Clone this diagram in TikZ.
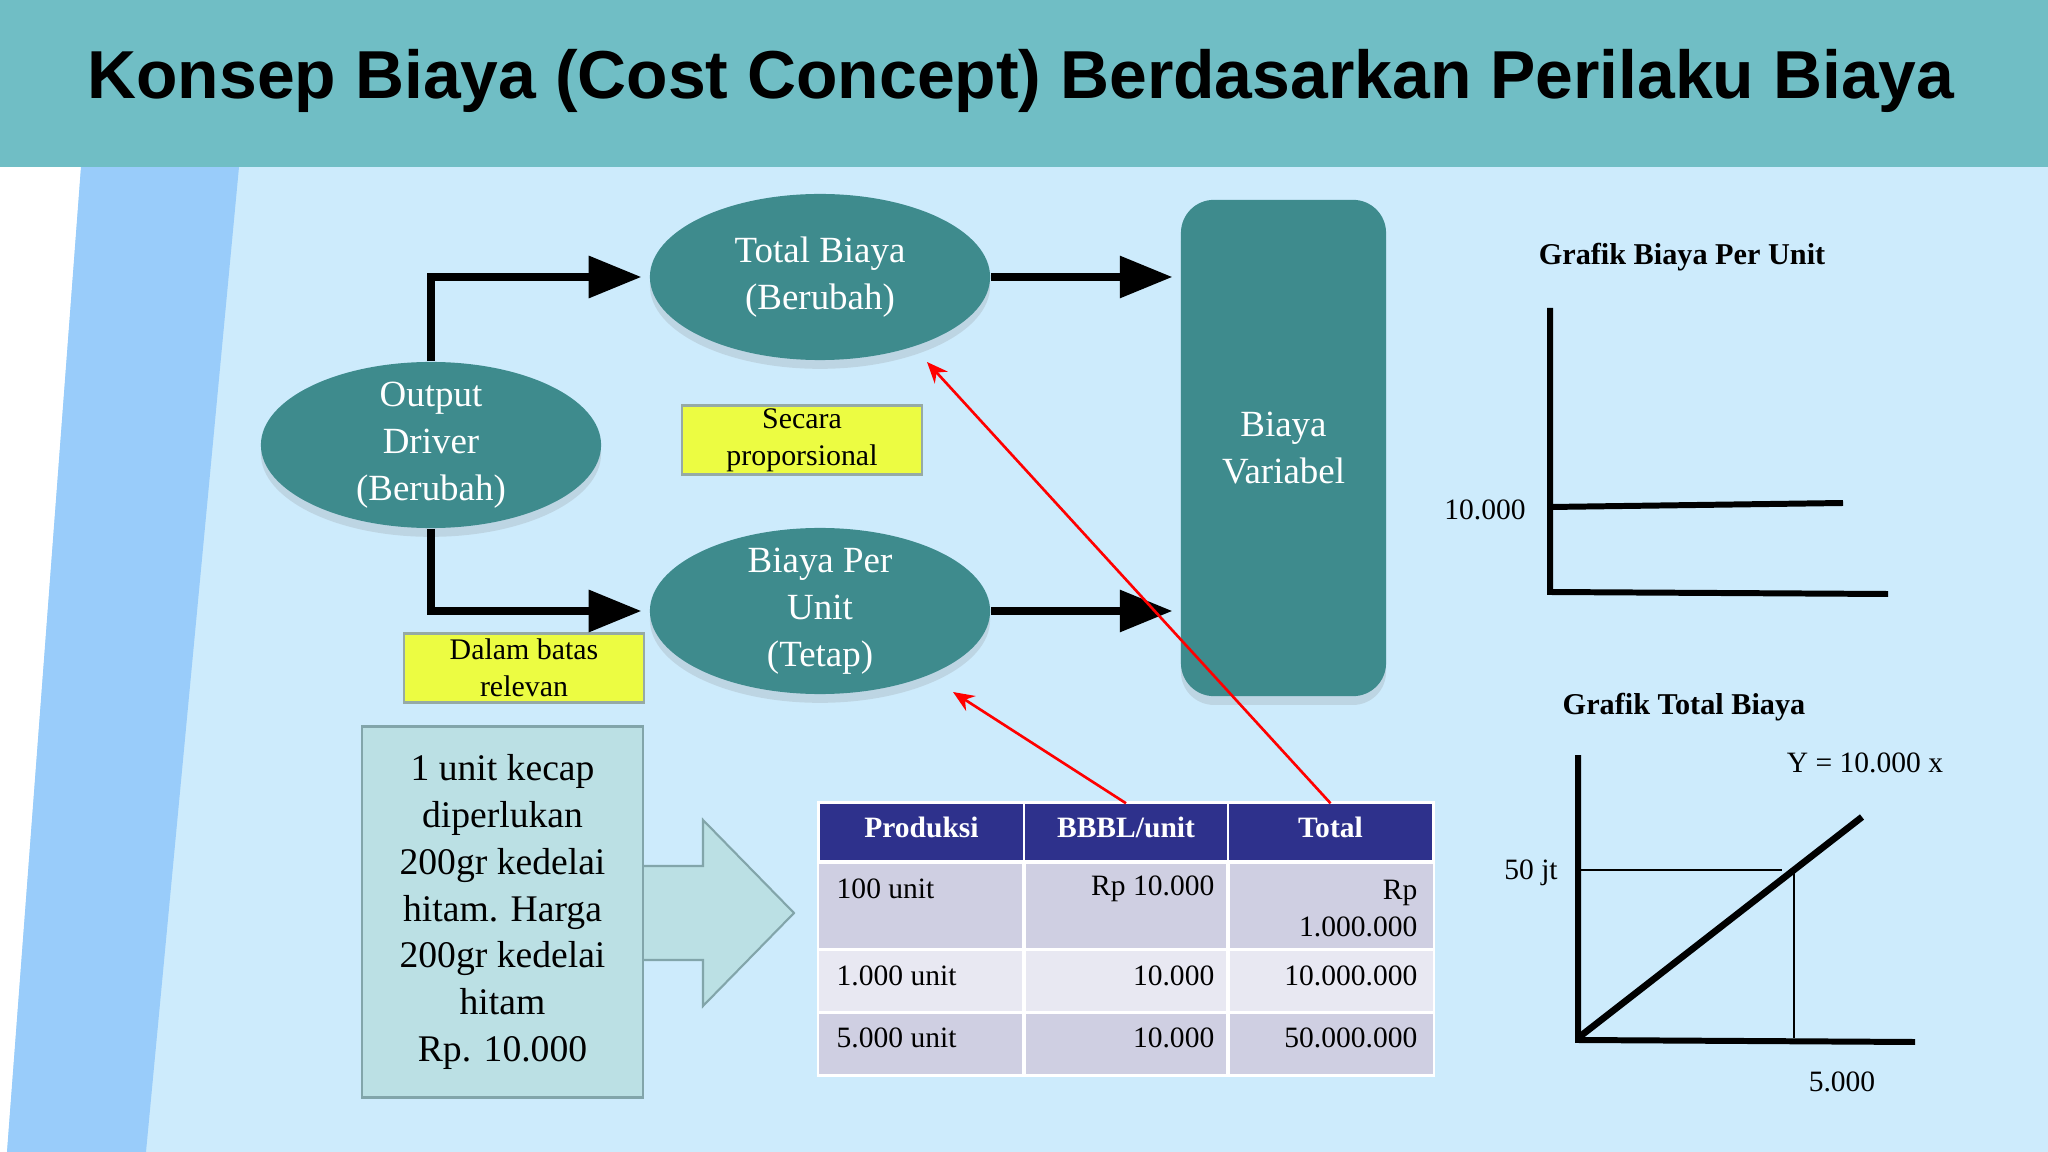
\documentclass[tikz,border=0pt]{standalone}
\usepackage{fontspec}
\setmainfont{Liberation Serif}
\newfontfamily\headfont{Liberation Sans}
\usetikzlibrary{arrows.meta,shapes.geometric,shadows}
\definecolor{BandTeal}{RGB}{112,190,197}
\definecolor{SkyBack}{RGB}{205,235,252}
\definecolor{StripeBlue}{RGB}{153,204,250}
\definecolor{NodeTeal}{RGB}{62,139,141}
\definecolor{NoteYellow}{RGB}{236,252,66}
\definecolor{NoteEdge}{RGB}{150,170,165}
\definecolor{BoxTeal}{RGB}{187,224,228}
\definecolor{BoxEdge}{RGB}{130,165,170}
\definecolor{HeadBlue}{RGB}{46,49,140}
\definecolor{RowDark}{RGB}{207,207,226}
\definecolor{RowLight}{RGB}{232,232,242}

\begin{document}
\begin{tikzpicture}[x=0.01cm, y=-0.01cm,
  every node/.style={align=center, inner sep=0pt},
  oval/.style={ellipse, fill=NodeTeal, minimum width=3.4cm, minimum height=1.66cm,
    drop shadow={shadow xshift=0pt, shadow yshift=-2.5pt, opacity=0.2}},
  ovaltxt/.style={text=white, font=\fontsize{10.5}{13.4}\selectfont},
  note/.style={fill=NoteYellow, draw=NoteEdge, line width=0.6pt, minimum width=2.4cm,
    minimum height=0.69cm, font=\fontsize{8.5}{10.4}\selectfont},
  flow/.style={line width=2.3pt, -{Triangle[length=15pt, width=11.5pt]}, shorten >=2.2pt},
  pointer/.style={red, line width=0.75pt, -{Stealth[length=6pt, width=5pt]}},
  hcell/.style={fill=HeadBlue, text=white, font=\fontsize{8.4}{10}\selectfont\bfseries,
    minimum width=2.02cm, minimum height=0.56cm, text height=6pt, text depth=3pt},
  tcell/.style={font=\fontsize{8.4}{10.4}\selectfont},
  axis/.style={line width=1.7pt},
  chart/.style={font=\fontsize{8.6}{10}\selectfont\bfseries}]
  \useasboundingbox (0,0) rectangle (2048,1152);
  \fill[SkyBack] (0,0) rectangle (2048,1152);
  \fill[white] (0,167) -- (81,167) -- (7,1152) -- (0,1152) -- cycle;
  \fill[StripeBlue] (81,167) -- (239,167) -- (146,1152) -- (7,1152) -- cycle;
  \fill[BandTeal] (0,0) rectangle (2048,167);
  \node[font=\headfont\bfseries\fontsize{19.3}{22}\selectfont] (ttl) at (1021,81) {Konsep Biaya (Cost Concept) Berdasarkan Perilaku Biaya};

  \node[oval] (tb) at (820,277) {};
  \node[ovaltxt] (tbt) at (tb) {Total Biaya\\(Berubah)};
  \node[oval] (drv) at (431,445) {};
  \node[ovaltxt] (drvt) at (drv) {Output\\Driver\\(Berubah)};
  \node[oval] (pu) at (820,611) {};
  \node[ovaltxt] (put) at (pu) {Biaya Per\\Unit\\(Tetap)};
  \node[fill=NodeTeal, rounded corners=0.33cm, minimum width=2.05cm, minimum height=4.96cm,
    text=white, font=\fontsize{10.5}{13.4}\selectfont,
    drop shadow={shadow xshift=0pt, shadow yshift=-2.5pt, opacity=0.2}] (bv) at (1283.5,448) {Biaya\\Variabel};

  \node[note] (prop) at (802,440) {Secara\\proporsional};
  \node[note] (rel) at (524,668) {Dalam batas\\relevan};

  \draw[flow] (drv.north) |- (tb.west);
  \draw[flow] (drv.south) |- (pu.west);
  \draw[flow] (tb.east) -- (tb.east -| bv.west);
  \draw[flow] (pu.east) -- (pu.east -| bv.west);

  \draw[fill=BoxTeal, draw=BoxEdge, line width=0.6pt] (640,866) -- (703,866) -- (703,820) -- (794,913)
    -- (703,1006) -- (703,960) -- (640,960);
  \node[fill=BoxTeal, draw=BoxEdge, line width=0.8pt, minimum width=2.81cm, minimum height=3.7cm,
    font=\fontsize{10.7}{13.3}\selectfont] (recipe) at (502.5,912)
    {1 unit kecap\\diperlukan\\200gr kedelai\\hitam. Harga\\200gr kedelai\\hitam\\Rp. 10.000};

  \fill[white] (817,801) rectangle (1435,1077);
  \fill[RowDark] (819,863.5) rectangle (1433,947.5);
  \fill[RowLight] (819,950.5) rectangle (1433,1010.5);
  \fill[RowDark] (819,1013.5) rectangle (1433,1073.5);
  \draw[white, line width=0.9pt] (1024,862) -- (1024,1075) (1228,862) -- (1228,1075);
  \node[hcell] (h1) at (921.5,832) {Produksi};
  \node[hcell] (h2) at (1126,832) {BBBL/unit};
  \node[hcell] (h3) at (1330.5,832) {Total};
  \node[tcell, anchor=west] (r1a) at (836,889) {100 unit};
  \node[tcell, anchor=east] (r1b) at (1215,889) {Rp 10.000};
  \node[tcell, anchor=north east, align=right] (r1c) at (1418,879.5) {Rp\\1.000.000};
  \node[tcell, anchor=west] (r2a) at (836,976) {1.000 unit};
  \node[tcell, anchor=east] (r2b) at (1215,976) {10.000};
  \node[tcell, anchor=east] (r2c) at (1418,976) {10.000.000};
  \node[tcell, anchor=west] (r3a) at (836,1038) {5.000 unit};
  \node[tcell, anchor=east] (r3b) at (1215,1038) {10.000};
  \node[tcell, anchor=east] (r3c) at (1418,1038) {50.000.000};

  \coordinate (pu-tip) at (953,692);
  \coordinate (tb-tip) at (927,362);
  \draw[pointer] (h2.north) -- (pu-tip);
  \draw[pointer] (h3.north) -- (tb-tip);

  \node[chart] (g1) at (1682,257) {Grafik Biaya Per Unit};
  \draw[axis] (1550,308) -- (1550,592) -- (1888,594);
  \draw[axis] (1550,507) -- (1843,503);
  \node[tcell] (g1y) at (1485,510) {10.000};

  \node[chart] (g2) at (1684,707) {Grafik Total Biaya};
  \draw[thin] (1580,870) -- (1782,870);
  \draw[thin] (1794,870) -- (1794,1038);
  \draw[axis] (1578,755) -- (1578,1040) -- (1915,1042);
  \draw[line width=1.9pt] (1578,1038) -- (1862,817);
  \node[tcell] (g2y) at (1531,873) {50 jt};
  \node[tcell] (g2x) at (1842,1082) {5.000};
  \node[tcell] (g2eq) at (1865,763) {Y = 10.000 x};
\end{tikzpicture}
\end{document}
